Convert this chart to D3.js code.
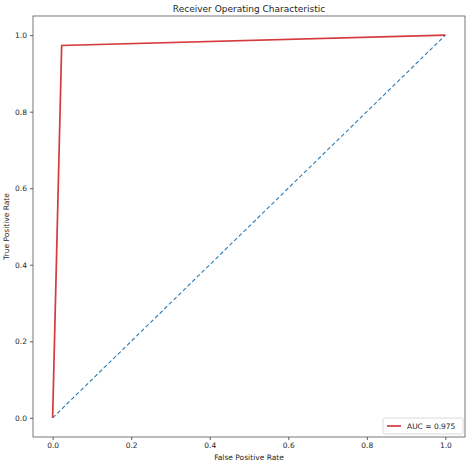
<!DOCTYPE html>
<html>
<head>
<meta charset="utf-8">
<script src="https://cdn.jsdelivr.net/npm/d3@7"></script>
<style>
  body { margin: 0; background: #fff; }
  text { font-family: "DejaVu Sans", sans-serif; fill: #262626; }
</style>
</head>
<body>
<div id="chart"></div>
<script>
// ROC curve points
var fpr = [0, 0.023, 1];
var tpr = [0, 0.973, 1];
var chanceX = [0, 1];
var chanceY = [0, 1];
var ticks = [0, 0.2, 0.4, 0.6, 0.8, 1.0];
var aucLabel = "AUC = 0.975";

var W = 474, H = 465;
var margins = {top: 16, right: 9, bottom: 28, left: 33};
var width = W - margins.left - margins.right;
var height = H - margins.top - margins.bottom;

var svg = d3.select("#chart").append("svg")
    .attr("width", W)
    .attr("height", H);

var xScale = d3.scaleLinear().domain([-0.05, 1.05]).range([0, width]);
var yScale = d3.scaleLinear().domain([-0.05, 1.05]).range([height, 0]);

var chart = svg.append("g")
    .attr("transform", "translate(" + margins.left + "," + margins.top + ")");

var xAxis = d3.axisBottom(xScale).tickValues(ticks).tickFormat(d3.format(".1f")).tickSize(3).tickPadding(3);
var yAxis = d3.axisLeft(yScale).tickValues(ticks).tickFormat(d3.format(".1f")).tickSize(3).tickPadding(3);

var xg = chart.append("g").attr("transform", "translate(0," + height + ")").call(xAxis);
var yg = chart.append("g").call(yAxis);
[xg, yg].forEach(function(g) {
  g.select(".domain").remove();
  g.selectAll("line").attr("stroke", "#333").attr("stroke-width", 0.8);
  g.selectAll("text").attr("font-size", 7.5).attr("fill", "#333");
});

var line = d3.line()
    .x(function(d) { return xScale(d[0]); })
    .y(function(d) { return yScale(d[1]); });

// dashed chance line
chart.append("path")
    .datum(chanceX.map(function(x, i) { return [x, chanceY[i]]; }))
    .attr("d", line)
    .attr("fill", "none")
    .attr("stroke", "#2b7bb6")
    .attr("stroke-width", 1.1)
    .attr("stroke-dasharray", "4,2.5");

// roc curve
chart.append("path")
    .datum(fpr.map(function(x, i) { return [x, tpr[i]]; }))
    .attr("d", line)
    .attr("fill", "none")
    .attr("stroke", "#d63a3d")
    .attr("stroke-width", 1.7);

// frame
chart.append("rect")
    .attr("width", width)
    .attr("height", height)
    .attr("fill", "none")
    .attr("stroke", "#555")
    .attr("stroke-width", 0.8);

// legend
var legend = chart.append("g")
    .attr("transform", "translate(" + (width - 82) + "," + (height - 19) + ")");
legend.append("rect")
    .attr("width", 80).attr("height", 16)
    .attr("rx", 1.5)
    .attr("fill", "#fff")
    .attr("stroke", "#d0d0d0")
    .attr("stroke-width", 0.8);
legend.append("line")
    .attr("x1", 4).attr("x2", 18).attr("y1", 8).attr("y2", 8)
    .attr("stroke", "#d63a3d").attr("stroke-width", 1.7);
legend.append("text")
    .attr("x", 24).attr("y", 8).attr("dy", "0.35em")
    .attr("font-size", 7.5)
    .text(aucLabel);

// title and labels
svg.append("text")
    .attr("x", margins.left + width / 2).attr("y", 12)
    .attr("text-anchor", "middle")
    .attr("font-size", 9)
    .text("Receiver Operating Characteristic");
svg.append("text")
    .attr("x", margins.left + width / 2).attr("y", 460)
    .attr("text-anchor", "middle")
    .attr("font-size", 7.5)
    .text("False Positive Rate");
svg.append("text")
    .attr("transform", "translate(9," + (margins.top + height / 2) + ") rotate(-90)")
    .attr("text-anchor", "middle")
    .attr("font-size", 7.5)
    .text("True Positive Rate");
</script>
</body>
</html>
